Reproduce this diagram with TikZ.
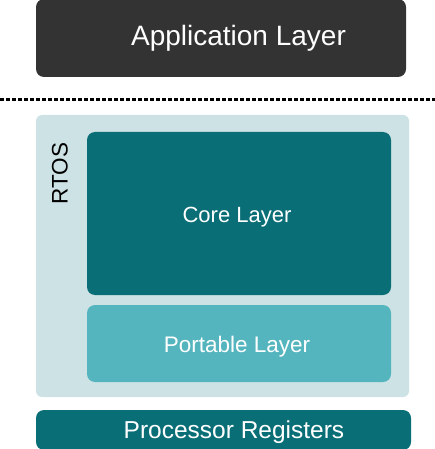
\documentclass[tikz,border=0pt]{standalone}
\usepackage{fontspec}
\setmainfont{Liberation Sans}
\definecolor{appgray}{HTML}{333333}
\definecolor{rtosbg}{HTML}{CDE2E5}
\definecolor{tealdark}{HTML}{0A6E77}
\definecolor{teallight}{HTML}{55B5BE}
\tikzset{
  layerbox/.style={rounded corners=8pt, draw=none},
  layertext/.style={text=white, inner sep=0pt, anchor=base},
}
\begin{document}
\begin{tikzpicture}[x=1pt,y=-1pt]
\useasboundingbox (0,0) rectangle (435,449);
% application layer
\fill[appgray, layerbox] (36,-1) rectangle (406,77);
\node[layertext, font=\fontsize{28}{30}\selectfont] (app) at (238.5,45.5) {Application Layer};
% dotted separator
\coordinate (sepL) at (0,99.5);
\coordinate (sepR) at (435,99.5);
\draw[black, line width=3.5pt, dash pattern=on 3.5pt off 2.5pt] (sepL) -- (sepR);
% RTOS container
\fill[rtosbg, rounded corners=6pt] (36,115) rectangle (409,397);
\node[inner sep=0pt, anchor=base, rotate=90, font=\fontsize{22.5}{24}\selectfont] (rtos) at (67.5,173.5) {RTOS};
% core layer
\fill[tealdark, layerbox] (87,132) rectangle (391,295);
\node[layertext, font=\fontsize{22}{24}\selectfont] (core) at (237,222.5) {Core Layer};
% portable layer
\fill[teallight, layerbox] (87,305) rectangle (391,382);
\node[layertext, font=\fontsize{22.5}{24}\selectfont] (port) at (237,352.5) {Portable Layer};
% processor registers
\fill[tealdark, layerbox] (36,410) rectangle (411,450);
\node[layertext, font=\fontsize{24.5}{26}\selectfont] (proc) at (234,438) {Processor Registers};
\end{tikzpicture}
\end{document}
